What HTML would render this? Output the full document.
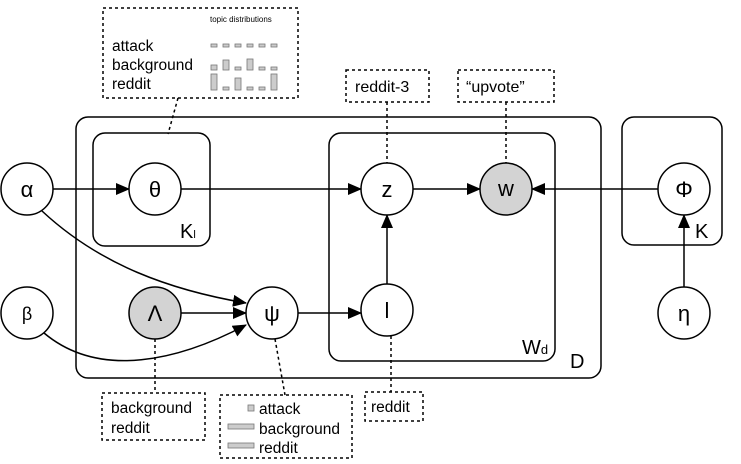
<!DOCTYPE html>
<html><head><style>body{margin:0;background:#fff}svg{display:block}</style></head>
<body>
<svg width="741" height="464" viewBox="0 0 741 464" xmlns="http://www.w3.org/2000/svg" font-family="Liberation Sans, sans-serif">
<defs><marker id="b" markerWidth="14" markerHeight="12" refX="13" refY="6" orient="auto" markerUnits="userSpaceOnUse"><path d="M0,0 L14,6 L0,12 Z" fill="#000"/></marker></defs>
<g fill="none" stroke="#000" stroke-width="1.5">
<rect x="76" y="117" width="525" height="261" rx="12"/>
<rect x="93" y="133" width="117" height="113" rx="12"/>
<rect x="329" y="133" width="226" height="228" rx="12"/>
<rect x="622" y="117" width="100" height="128" rx="12"/>
</g>
<g fill="none" stroke="#000" stroke-width="1.5" stroke-dasharray="3,3">
<rect x="103" y="8" width="195" height="90"/>
<rect x="346" y="70" width="83" height="32"/>
<rect x="458" y="70" width="96" height="32"/>
<rect x="102" y="393" width="103" height="47"/>
<rect x="220" y="395" width="132" height="63"/>
<rect x="365" y="392" width="58" height="29"/>
<line x1="178" y1="98" x2="168" y2="134"/>
<line x1="387" y1="102" x2="387" y2="163"/>
<line x1="506" y1="102" x2="506" y2="163"/>
<line x1="155" y1="339" x2="155" y2="393"/>
<line x1="275" y1="339" x2="285" y2="395"/>
<line x1="391" y1="336" x2="391" y2="392"/>
</g>
<g stroke="#000" stroke-width="1.5" fill="none">
<line x1="53" y1="189" x2="129" y2="189" marker-end="url(#b)"/>
<line x1="181" y1="189" x2="361" y2="189" marker-end="url(#b)"/>
<line x1="413" y1="189" x2="480" y2="189" marker-end="url(#b)"/>
<line x1="658" y1="189" x2="532" y2="189" marker-end="url(#b)"/>
<line x1="684" y1="287" x2="684" y2="215" marker-end="url(#b)"/>
<line x1="387" y1="284" x2="387" y2="215" marker-end="url(#b)"/>
<line x1="181" y1="313" x2="246" y2="313" marker-end="url(#b)"/>
<line x1="298" y1="313" x2="361" y2="313" marker-end="url(#b)"/>
<path d="M42,211 C100,265 170,290 246,303" marker-end="url(#b)"/>
<path d="M44,333 C100,380 180,360 246,325" marker-end="url(#b)"/>
</g>
<g stroke="#000" stroke-width="1.5">
<circle cx="27" cy="189" r="26" fill="#fff"/>
<circle cx="155" cy="189" r="26" fill="#fff"/>
<circle cx="387" cy="189" r="26" fill="#fff"/>
<circle cx="506" cy="189" r="26" fill="#d3d3d3"/>
<circle cx="684" cy="189" r="26" fill="#fff"/>
<circle cx="27" cy="313" r="26" fill="#fff"/>
<circle cx="155" cy="313" r="26" fill="#d3d3d3"/>
<circle cx="272" cy="313" r="26" fill="#fff"/>
<circle cx="387" cy="310" r="26" fill="#fff"/>
<circle cx="684" cy="313" r="26" fill="#fff"/>
</g>
<g font-size="22" text-anchor="middle" fill="#000">
<text x="27" y="197">α</text><text x="155" y="197">θ</text><text x="387" y="197">z</text>
<text x="506" y="196">w</text><text x="684" y="197">Φ</text><text x="27" y="320" font-size="18">β</text>
<text x="155" y="321">Λ</text><text x="272" y="321">ψ</text><text x="387" y="318">l</text><text x="684" y="321">η</text>
</g>
<g font-size="20" fill="#000">
<text x="180" y="238">K<tspan font-size="11">l</tspan></text>
<text x="522" y="354">W<tspan font-size="13">d</tspan></text>
<text x="570" y="368">D</text>
<text x="695" y="238">K</text>
</g>
<g font-size="15.5" fill="#000">
<text x="112" y="51">attack</text><text x="112" y="70">background</text><text x="112" y="89">reddit</text>
<text x="355" y="92" font-size="16">reddit-3</text><text x="466" y="92" font-size="16">“upvote”</text>
<text x="111" y="413">background</text><text x="111" y="433">reddit</text>
<text x="259" y="414">attack</text><text x="259" y="434">background</text><text x="259" y="453">reddit</text>
<text x="371" y="412">reddit</text>
<text x="210" y="22" font-size="8">topic distributions</text>
</g>
<g fill="#ccc" stroke="#777" stroke-width="0.8">
<rect x="211" y="44" width="6" height="3"/><rect x="223" y="44" width="6" height="3"/><rect x="235" y="44" width="6" height="3"/><rect x="247" y="44" width="6" height="3"/><rect x="259" y="44" width="6" height="3"/><rect x="271" y="44" width="6" height="3"/>
<rect x="211" y="65" width="6" height="5"/><rect x="223" y="60" width="6" height="10"/><rect x="235" y="67" width="6" height="3"/><rect x="247" y="59" width="6" height="11"/><rect x="259" y="67" width="6" height="3"/><rect x="271" y="67" width="6" height="3"/>
<rect x="211" y="74" width="6" height="16"/><rect x="223" y="87" width="6" height="3"/><rect x="235" y="78" width="6" height="12"/><rect x="247" y="87" width="6" height="3"/><rect x="259" y="87" width="6" height="3"/><rect x="271" y="74" width="6" height="16"/>
<rect x="248" y="405" width="6" height="6"/><rect x="228" y="424" width="26" height="5"/><rect x="228" y="443" width="26" height="5"/>
</g>
</svg>
</body></html>
